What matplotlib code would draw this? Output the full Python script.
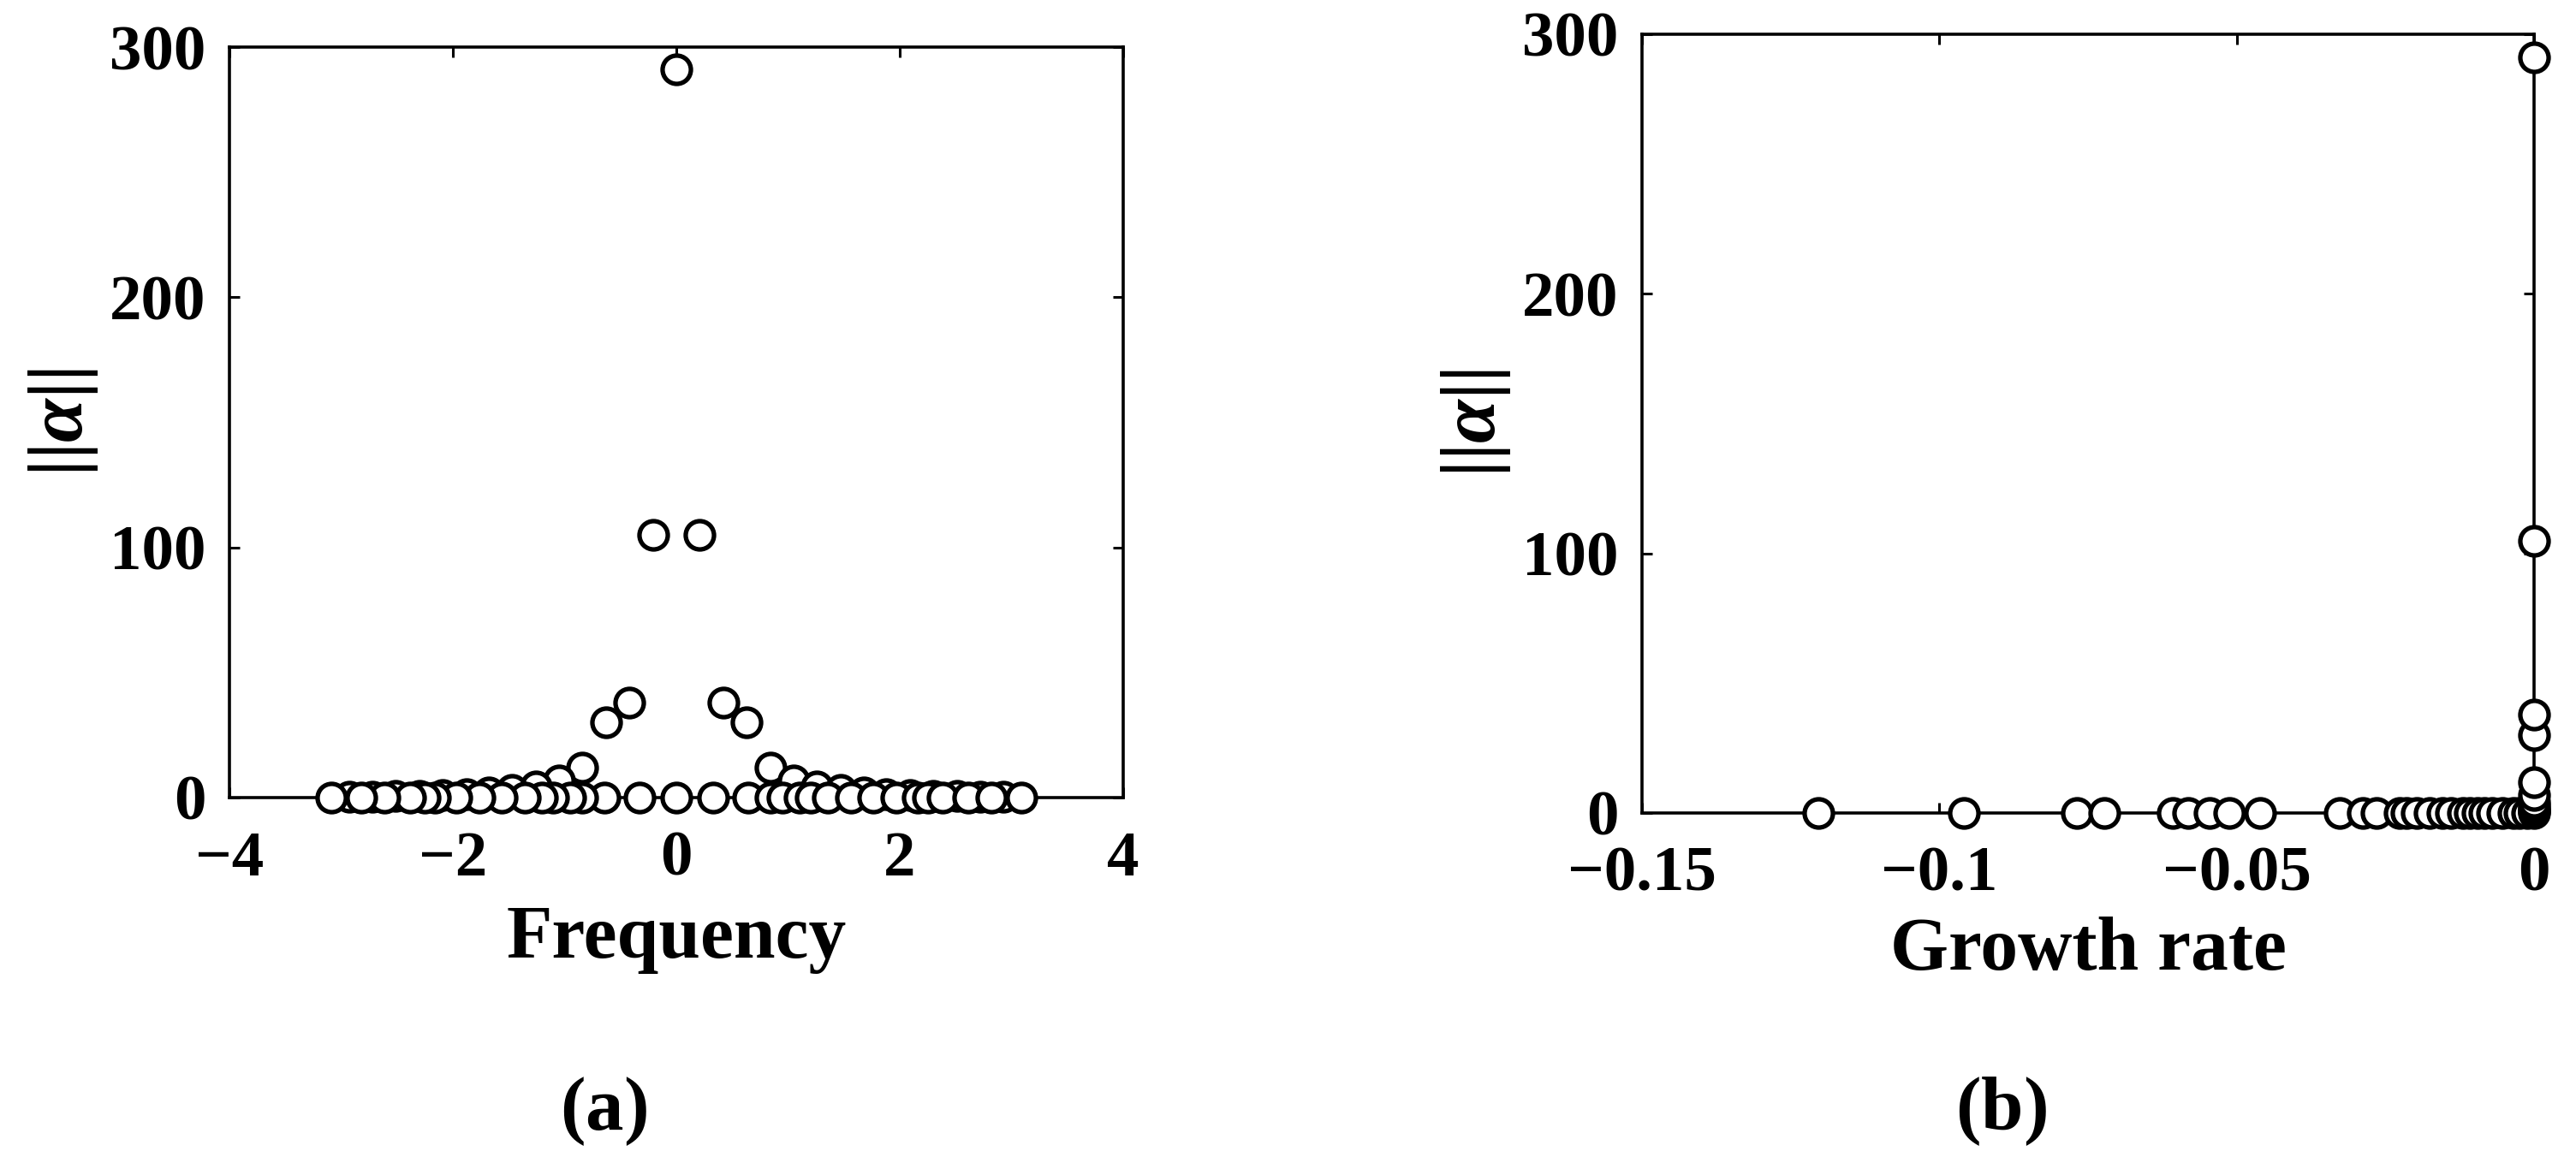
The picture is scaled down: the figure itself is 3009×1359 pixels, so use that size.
import matplotlib
matplotlib.use('Agg')
import matplotlib.pyplot as plt

# -----------------------------
# (a) amplitude vs frequency
# -----------------------------
freq_a = [0.0,
          -0.21, 0.21, -0.42, 0.42, -0.63, 0.63, -0.84, 0.84,
          -1.05, 1.05, -1.26, 1.26, -1.47, 1.47, -1.68, 1.68,
          -1.88, 1.88, -2.09, 2.09, -2.30, 2.30, -2.51, 2.51,
          -2.72, 2.72, -2.93, 2.93,
          0.0, -0.33, 0.33, -0.64, 0.64, -0.84, 0.84, -0.95, 0.95,
          -1.10, 1.10, -1.20, 1.20, -1.36, 1.36, -1.56, 1.56,
          -1.76, 1.76, -1.97, 1.97, -2.16, 2.16, -2.25, 2.25,
          -2.38, 2.38, -2.61, 2.61, -2.82, 2.82, -3.09, 3.09]
amp_a = [291,
         105, 105, 38, 38, 30, 30, 12, 12,
         7, 7, 4.4, 4.4, 3, 3, 2, 2,
         1.5, 1.5, 1.0, 1.0, 0.8, 0.8, 0.6, 0.6,
         0.5, 0.5, 0.4, 0.4,
         0, 0, 0, 0, 0, 0, 0, 0, 0,
         0, 0, 0, 0, 0, 0, 0, 0,
         0, 0, 0, 0, 0, 0, 0, 0,
         0, 0, 0, 0, 0, 0, 0, 0]

# -----------------------------
# (b) amplitude vs growth rate
# -----------------------------
growth_b = [-0.1203, -0.0959, -0.0769, -0.0723, -0.0607, -0.0582, -0.0545,
            -0.0512, -0.0461, -0.0327, -0.0288, -0.0265, -0.0226, -0.0215,
            -0.0197, -0.0175, -0.0154, -0.0140, -0.0120, -0.0108, -0.0095,
            -0.0084, -0.0070, -0.0053, -0.0035, -0.0024, -0.0012,
            0, 0, 0, 0, 0, 0, 0, 0, 0, 0, 0, 0]
amp_b = [0, 0, 0, 0, 0, 0, 0,
         0, 0, 0, 0, 0, 0, 0,
         0, 0, 0, 0, 0, 0, 0,
         0, 0, 0, 0, 0, 0,
         0, 0.5, 1.0, 2.0, 3.0, 4.4, 7, 12, 30, 38, 105, 291]

xticks_a = [-4, -2, 0, 2, 4]
xticklabels_a = ['\u22124', '\u22122', '0', '2', '4']
xticks_b = [-0.15, -0.1, -0.05, 0]
xticklabels_b = ['\u22120.15', '\u22120.1', '\u22120.05', '0']
yticks = [0, 100, 200, 300]

plt.rcParams['font.family'] = ['Liberation Serif', 'DejaVu Serif']
plt.rcParams['font.weight'] = 'bold'
plt.rcParams['mathtext.fontset'] = 'custom'
plt.rcParams['mathtext.rm'] = 'Liberation Serif'
plt.rcParams['mathtext.it'] = 'Liberation Serif:italic'
plt.rcParams['mathtext.bf'] = 'Liberation Serif:bold'

fig = plt.figure(figsize=(15.045, 6.795), dpi=200)
ax1 = fig.add_axes([268/3009, 1 - 932/1359, 1044/3009, 877/1359])
ax2 = fig.add_axes([1918/3009, 1 - 950/1359, 1042/3009, 910/1359])

mk = dict(linestyle='none', marker='o', markersize=11.9, markerfacecolor='white',
          markeredgecolor='black', markeredgewidth=1.9, clip_on=False, zorder=3)

ax1.plot(freq_a, amp_a, **mk)
ax2.plot(growth_b, amp_b, **mk)

for ax in (ax1, ax2):
    ax.set_ylim(0, 300)
    ax.set_yticks(yticks)
    ax.set_yticklabels([str(v) for v in yticks])
    for s in ax.spines.values():
        s.set_linewidth(1.3)
    ax.tick_params(direction='in', length=4.3, width=1.1, top=True, right=True,
                   labelsize=27, pad=10)
    for lab in ax.get_xticklabels() + ax.get_yticklabels():
        lab.set_fontweight('bold')
    ax.set_ylabel(r'$||\alpha||$', fontsize=33, fontweight='normal', labelpad=4)

ax1.tick_params(axis='x', pad=14)
ax2.tick_params(axis='x', pad=14)

ax1.set_xlim(-4, 4)
ax1.set_xticks(xticks_a)
ax1.set_xticklabels(xticklabels_a, fontweight='bold')
ax1.set_xlabel('Frequency', fontsize=31.5, fontweight='bold', labelpad=6.5)

ax2.set_xlim(-0.15, 0)
ax2.set_xticks(xticks_b)
ax2.set_xticklabels(xticklabels_b, fontweight='bold')
ax2.set_xlabel('Growth rate', fontsize=31.5, fontweight='bold', labelpad=5)

fig.text(705/3009, 1 - 1320/1359, r'$(\mathbf{a})$', fontsize=32, ha='center', va='baseline')
fig.text(2337/3009, 1 - 1320/1359, r'$(\mathbf{b})$', fontsize=32, ha='center', va='baseline')

fig.savefig('out.png', dpi=200, facecolor='white')
